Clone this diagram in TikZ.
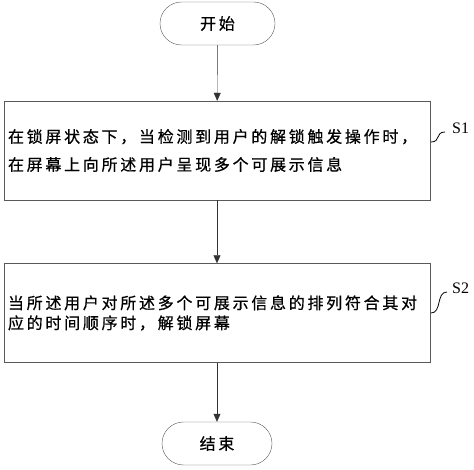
\documentclass[tikz,border=0pt]{standalone}
\usepackage{fontspec}
\setmainfont{Liberation Serif}
\newfontfamily\cjk[LetterSpace=17,FakeBold=0.6]{Noto Sans CJK SC}
\usetikzlibrary{arrows.meta}

\begin{document}
\begin{tikzpicture}[x = 1pt, y = -1pt,
    term/.style = {draw=black!65, rounded corners=21.5pt, minimum height=43pt, font=\cjk\fontsize{16}{18}\selectfont},
    proc/.style = {draw=black!65, minimum width=426pt, minimum height=99pt, text width=418pt, inner xsep=4pt, align=left},
    flow/.style = {draw=black!80, -{Triangle[width=7pt,length=8pt]}},
    tag/.style = {anchor=west, inner sep=0pt, font=\fontsize{16}{18}\selectfont},
    wave/.style = {draw=black, line width=0.8pt}]
    \useasboundingbox (0,0) rectangle (474,470);
    \node[term, minimum width=115pt] (start) at (217.5,23.5) {开始};
    \node[proc, font=\cjk\fontsize{16}{28}\selectfont] (s1) at (217,150.5) {在锁屏状态下，当检测到用户的解锁触发操作时，\\在屏幕上向所述用户呈现多个可展示信息};
    \node[proc, font=\cjk\fontsize{16}{20}\selectfont] (s2) at (217,313) {当所述用户对所述多个可展示信息的排列符合其对\\应的时间顺序时，解锁屏幕};
    \node[term, minimum width=110pt] (end) at (217,443.5) {结束};
    \draw[flow] (start) -- (s1);
    \draw[flow] (s1) -- (s2);
    \draw[flow] (s2) -- (end);
    % step labels
    \coordinate (w1) at (431,142);
    \coordinate (w2) at (431,313);
    \node[tag] (t1) at (452,128) {S1};
    \node[tag] (t2) at (452,288) {S2};
    \draw[wave] (w1) .. controls +(10,0) and +(-10,0) .. ([shift={(-7,4)}]t1.west);
    \draw[wave] (w2) .. controls +(11,0) and +(-11,0) .. ([shift={(-5,4)}]t2.west);
\end{tikzpicture}
\end{document}
